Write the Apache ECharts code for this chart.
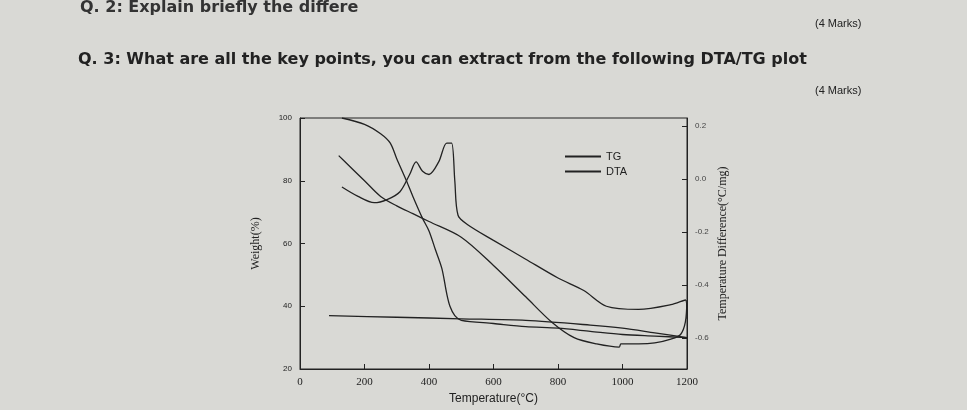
<!DOCTYPE html><html><head><meta charset="utf-8"><script src="https://cdn.jsdelivr.net/npm/echarts@6/dist/echarts.min.js"></script>
<style>html,body{margin:0;background:#d9d9d5}#c{width:967px;height:410px}</style></head><body><div id="c"></div><script>
const xTicks=[0,200,400,600,800,1000,1200];
const tgSteep=[[130,100],[200,98],[250,95],[280,92],[300,87],[330,80],[350,75],[380,68],[400,64],[420,58],[440,52],[455,44],[465,40],[480,37],[500,35.5],[600,34.5],[700,33.5],[800,33],[900,32],[1000,31],[1100,30.5],[1200,30]];
const flatLine=[[90,37],[300,36.5],[500,36],[700,35.5],[900,34],[1000,33],[1100,31.5],[1200,30]];
const tgLong=[[120,88],[160,84],[200,80],[250,75],[300,72],[350,69.5],[400,67],[500,62],[600,53],[700,43],[780,35],[850,30],[920,28],[990,27],[995,28],[1050,28],[1100,28.3],[1150,29.5],[1180,31],[1195,35],[1200,42]];
const dta=[[130,78],[180,75],[230,73],[270,74],[310,76.5],[340,82],[360,86],[380,83],[400,82],[430,86],[455,92],[470,92],[480,80],[490,69],[520,66],[600,61],[700,55],[800,49],[880,45],[950,40],[1050,39],[1150,40.5],[1195,42],[1200,36]];
const rightTicks=[0.2,0,-0.2,-0.4,-0.6];
const c=echarts.init(document.getElementById('c'));
const ln=(name,d)=>({name,type:'line',data:d,showSymbol:false,smooth:0.3,lineStyle:{color:'#222',width:1.3},itemStyle:{color:'#222'}});
c.setOption({backgroundColor:'#d9d9d5',animation:false,
grid:{left:300,right:280,top:118,bottom:32,show:true,borderColor:'#222',borderWidth:1,backgroundColor:'transparent'},
legend:{data:['TG','DTA'],orient:'vertical',left:560,top:146,itemWidth:36,itemHeight:2,itemGap:4,textStyle:{fontSize:11,color:'#222',fontFamily:'Arial'},icon:'rect'},
xAxis:{type:'value',min:0,max:1200,interval:200,axisLine:{onZero:false,lineStyle:{color:'#222'}},axisTick:{inside:true,lineStyle:{color:'#222'}},axisLabel:{color:'#222',fontSize:11,fontFamily:'Liberation Serif',formatter:v=>String(v)},splitLine:{show:false},name:'Temperature(°C)',nameLocation:'middle',nameGap:24,nameTextStyle:{color:'#222',fontSize:12}},
yAxis:[{type:'value',min:20,max:100,interval:20,axisLine:{show:true,onZero:false,lineStyle:{color:'#222'}},axisTick:{show:true,inside:true},axisLabel:{color:'#222',fontSize:8},splitLine:{show:false},name:'Weight(%)',nameLocation:'middle',nameGap:38,nameRotate:90,nameTextStyle:{color:'#222',fontSize:12,fontFamily:'Liberation Serif'}},
{type:'value',min:-0.7176,max:0.2294,position:'right',axisLine:{show:true,onZero:false,lineStyle:{color:'#222'}},axisTick:{show:true,inside:true,customValues:rightTicks},axisLabel:{customValues:rightTicks,color:'#444',fontSize:8,formatter:v=>v.toFixed(1)},splitLine:{show:false},name:'Temperature Difference(°C/mg)',nameLocation:'middle',nameGap:30,nameRotate:90,nameTextStyle:{color:'#222',fontSize:12,fontFamily:'Liberation Serif'}}],
series:[ln('TG',tgSteep),ln('DTA',dta),ln('',tgLong),ln('',flatLine)],
graphic:[{type:'text',left:80,top:0,style:{text:'Q. 2: Explain briefly the differe',fontSize:16,fontWeight:'bold',fill:'#333',fontFamily:'DejaVu Sans'}},
{type:'text',left:78,top:52,style:{text:'Q. 3: What are all the key points, you can extract from the following DTA/TG plot',fontSize:16,fontWeight:'bold',fill:'#222',fontFamily:'DejaVu Sans'}},
{type:'text',left:815,top:18,style:{text:'(4 Marks)',fontSize:11,fill:'#222'}},
{type:'text',left:815,top:85,style:{text:'(4 Marks)',fontSize:11,fill:'#222'}}]});
</script></body></html>
